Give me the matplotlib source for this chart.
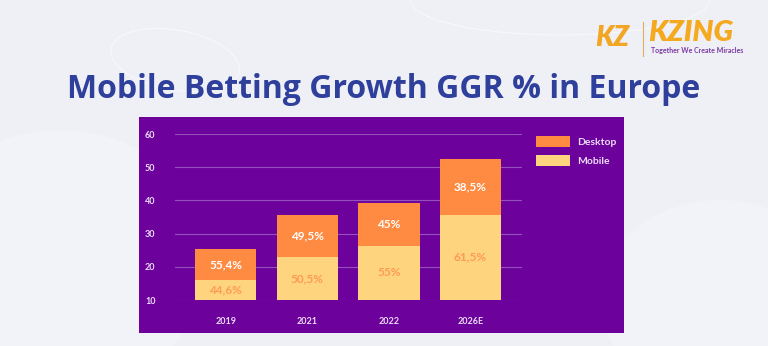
import numpy as np
import matplotlib.pyplot as plt
from matplotlib.patches import Ellipse

# =========================
# Data
# =========================
YEARS = ["2019", "2021", "2022", "2026E"]
MOBILE_TOP = [16.0, 23.0, 26.4, 35.7]
TOTAL_TOP = [25.3, 35.7, 39.2, 52.4]
MOBILE_LABELS = ["44,6%", "50,5%", "55%", "61,5%"]
DESKTOP_LABELS = ["55,4%", "49,5%", "45%", "38,5%"]
Y_TICKS = [10, 20, 30, 40, 50, 60]
BASE = 10

# =========================
# Style
# =========================
W, H = 768, 346
BG = "#eef0f6"
PANEL = "#6c019c"
GRID = "#9451bb"
ORANGE = "#ff8a42"
YELLOW = "#ffd47e"
TITLE_BLUE = "#2f3f9c"
TICK = "#eadcf5"
FONT = ["Lato", "DejaVu Sans"]


def px(x0, y0, w, h):
    """Convert a pixel box (top-left origin) to figure coords."""
    return [x0 / W, 1 - (y0 + h) / H, w / W, h / H]


fig = plt.figure(figsize=(W / 100, H / 100), dpi=100)
fig.patch.set_facecolor(BG)

# soft background shapes
bg = fig.add_axes([0, 0, 1, 1])
bg.set_xlim(0, W)
bg.set_ylim(H, 0)
bg.axis("off")
bg.add_patch(Ellipse((60, 260), 300, 260, color="#f2f3f8", lw=0))
bg.add_patch(Ellipse((720, 300), 240, 200, color="#f2f3f8", lw=0))
bg.add_patch(Ellipse((175, 60), 130, 60, angle=10, fill=False, ec="white", lw=0.6, alpha=0.7))
bg.add_patch(Ellipse((560, 0), 300, 70, fill=False, ec="white", lw=0.6, alpha=0.7))

# title
fig.text(0.5, 1 - 89 / H, "Mobile Betting Growth GGR % in Europe",
         ha="center", va="center", fontsize=23, fontweight="bold",
         color=TITLE_BLUE, family=["Open Sans", "DejaVu Sans"])

# brand mark
fig.text(612 / W, 1 - 38 / H, "KZ", ha="center", va="center", fontsize=20,
         fontweight="heavy", style="italic", color="#f2a623", family=FONT)
fig.add_artist(plt.Line2D([643 / W, 643 / W], [1 - 22 / H, 1 - 56 / H],
                          color="#e0b060", lw=0.8))
fig.text(648 / W, 1 - 33 / H, "KZING", ha="left", va="center", fontsize=21,
         fontweight="heavy", style="italic", color="#f4a91f", family=FONT)
fig.text(651 / W, 1 - 51 / H, "Together We Create Miracles", ha="left",
         va="center", fontsize=5.0, fontweight="bold", color="#7b3aa0", family=FONT)

# purple panel
panel = fig.add_axes(px(139, 117, 485, 216))
panel.set_facecolor(PANEL)
panel.set_xticks([])
panel.set_yticks([])
for s in panel.spines.values():
    s.set_visible(False)

# chart axes
ax = fig.add_axes(px(175, 134, 347, 166))
ax.patch.set_alpha(0)
x = np.arange(len(YEARS))
mobile_h = np.array(MOBILE_TOP) - BASE
desktop_h = np.array(TOTAL_TOP) - np.array(MOBILE_TOP)

ax.set_axisbelow(True)
ax.bar(x, mobile_h, bottom=BASE, width=0.75, color=YELLOW, label="Mobile")
ax.bar(x, desktop_h, bottom=MOBILE_TOP, width=0.75, color=ORANGE, label="Desktop")

for i in range(len(YEARS)):
    ax.text(x[i], BASE + mobile_h[i] / 2, MOBILE_LABELS[i], ha="center", va="center",
            fontsize=8.5, fontweight="bold", color="#ff9a55", family=FONT)
    ax.text(x[i], MOBILE_TOP[i] + desktop_h[i] / 2, DESKTOP_LABELS[i], ha="center",
            va="center", fontsize=8.5, fontweight="bold", color="white", family=FONT)

ax.set_xlim(-0.62, 3.63)
ax.set_ylim(10, 60)
ax.set_yticks(Y_TICKS)
ax.yaxis.grid(True, color=GRID, lw=0.8)
ax.set_xticks(x)
ax.set_xticklabels(YEARS)
ax.tick_params(axis="both", length=0, colors=TICK, labelsize=6.5)
ax.tick_params(axis="x", pad=12)
ax.tick_params(axis="y", pad=14)
for lbl in ax.get_xticklabels() + ax.get_yticklabels():
    lbl.set_family(FONT)
    lbl.set_fontweight("bold")
for s in ax.spines.values():
    s.set_visible(False)

# legend, Desktop on top
handles, labels = ax.get_legend_handles_labels()
leg = fig.legend(handles[::-1], labels[::-1], loc="upper left",
                 bbox_to_anchor=(527 / W, 1 - 127 / H), frameon=False,
                 handlelength=3.2, handleheight=1.2,
                 labelspacing=0.75, handletextpad=0.7,
                 prop={"family": FONT, "size": 7.5, "weight": "bold"})
for t in leg.get_texts():
    t.set_color(TICK)

fig.savefig("out.png", dpi=100, facecolor=BG)
